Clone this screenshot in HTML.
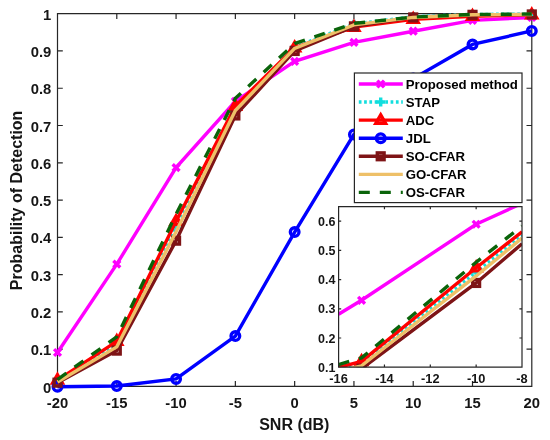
<!DOCTYPE html>
<html><head><meta charset="utf-8"><title>Probability of Detection vs SNR</title>
<style>html,body{margin:0;padding:0;background:#fff;}body{width:550px;height:440px;overflow:hidden;position:relative;}</style></head>
<body>
<svg width="550" height="440" viewBox="0 0 550 440" style="position:absolute;left:0;top:0;font-family:'Liberation Sans',Arial,Helvetica,sans-serif" font-weight="bold" fill="#151515">
<defs><clipPath id="ic"><rect x="338.6" y="206.6" width="183.39999999999998" height="160.6"/></clipPath></defs>
<rect width="550" height="440" fill="#fff"/>
<path d="M57.5 13.7H531.8V386.4H57.5ZM57.50 386.4v-5.3M57.50 13.7v5.3M116.79 386.4v-5.3M116.79 13.7v5.3M176.07 386.4v-5.3M176.07 13.7v5.3M235.36 386.4v-5.3M235.36 13.7v5.3M294.65 386.4v-5.3M294.65 13.7v5.3M353.94 386.4v-5.3M353.94 13.7v5.3M413.22 386.4v-5.3M413.22 13.7v5.3M472.51 386.4v-5.3M472.51 13.7v5.3M531.80 386.4v-5.3M531.80 13.7v5.3M57.5 386.40h5.3M531.8 386.40h-5.3M57.5 349.13h5.3M531.8 349.13h-5.3M57.5 311.86h5.3M531.8 311.86h-5.3M57.5 274.59h5.3M531.8 274.59h-5.3M57.5 237.32h5.3M531.8 237.32h-5.3M57.5 200.05h5.3M531.8 200.05h-5.3M57.5 162.78h5.3M531.8 162.78h-5.3M57.5 125.51h5.3M531.8 125.51h-5.3M57.5 88.24h5.3M531.8 88.24h-5.3M57.5 50.97h5.3M531.8 50.97h-5.3M57.5 13.70h5.3M531.8 13.70h-5.3" stroke="#262626" stroke-width="1.2" fill="none"/>
<text x="57.50" y="408.4" font-size="14.8" text-anchor="middle">-20</text>
<text x="116.79" y="408.4" font-size="14.8" text-anchor="middle">-15</text>
<text x="176.07" y="408.4" font-size="14.8" text-anchor="middle">-10</text>
<text x="235.36" y="408.4" font-size="14.8" text-anchor="middle">-5</text>
<text x="294.65" y="408.4" font-size="14.8" text-anchor="middle">0</text>
<text x="353.94" y="408.4" font-size="14.8" text-anchor="middle">5</text>
<text x="413.22" y="408.4" font-size="14.8" text-anchor="middle">10</text>
<text x="472.51" y="408.4" font-size="14.8" text-anchor="middle">15</text>
<text x="531.80" y="408.4" font-size="14.8" text-anchor="middle">20</text>
<text x="51.3" y="392.50" font-size="14.8" text-anchor="end">0</text>
<text x="51.3" y="355.23" font-size="14.8" text-anchor="end">0.1</text>
<text x="51.3" y="317.96" font-size="14.8" text-anchor="end">0.2</text>
<text x="51.3" y="280.69" font-size="14.8" text-anchor="end">0.3</text>
<text x="51.3" y="243.42" font-size="14.8" text-anchor="end">0.4</text>
<text x="51.3" y="206.15" font-size="14.8" text-anchor="end">0.5</text>
<text x="51.3" y="168.88" font-size="14.8" text-anchor="end">0.6</text>
<text x="51.3" y="131.61" font-size="14.8" text-anchor="end">0.7</text>
<text x="51.3" y="94.34" font-size="14.8" text-anchor="end">0.8</text>
<text x="51.3" y="57.07" font-size="14.8" text-anchor="end">0.9</text>
<text x="51.3" y="19.80" font-size="14.8" text-anchor="end">1</text>
<text x="294.3" y="430" font-size="16" text-anchor="middle">SNR (dB)</text>
<text transform="translate(21.8,200.4) rotate(-90)" font-size="16" text-anchor="middle">Probability of Detection</text>
<polyline points="57.50,352.48 116.79,264.15 176.07,167.63 235.36,101.28 294.65,61.41 353.94,42.40 413.22,31.22 472.51,20.41 531.80,17.43" fill="none" stroke="#ff00ff" stroke-width="3.4" stroke-linejoin="miter"/><path d="M54.10 349.08L60.90 355.88M54.10 355.88L60.90 349.08" stroke="#ff00ff" stroke-width="3.4" fill="none"/><path d="M113.39 260.75L120.19 267.55M113.39 267.55L120.19 260.75" stroke="#ff00ff" stroke-width="3.4" fill="none"/><path d="M172.67 164.23L179.47 171.03M172.67 171.03L179.47 164.23" stroke="#ff00ff" stroke-width="3.4" fill="none"/><path d="M231.96 97.88L238.76 104.68M231.96 104.68L238.76 97.88" stroke="#ff00ff" stroke-width="3.4" fill="none"/><path d="M291.25 58.01L298.05 64.81M291.25 64.81L298.05 58.01" stroke="#ff00ff" stroke-width="3.4" fill="none"/><path d="M350.54 39.00L357.34 45.80M350.54 45.80L357.34 39.00" stroke="#ff00ff" stroke-width="3.4" fill="none"/><path d="M409.82 27.82L416.62 34.62M409.82 34.62L416.62 27.82" stroke="#ff00ff" stroke-width="3.4" fill="none"/><path d="M469.11 17.01L475.91 23.81M469.11 23.81L475.91 17.01" stroke="#ff00ff" stroke-width="3.4" fill="none"/><path d="M528.40 14.03L535.20 20.83M528.40 20.83L535.20 14.03" stroke="#ff00ff" stroke-width="3.4" fill="none"/>
<polyline points="57.50,381.55 116.79,344.28 176.07,226.88 235.36,108.74 294.65,47.24 353.94,24.14 413.22,16.68 472.51,14.45 531.80,14.07" fill="none" stroke="#12dede" stroke-width="3.4" stroke-linejoin="miter" stroke-dasharray="2.7 2.6"/><path d="M53.00 381.55L62.00 381.55M57.50 377.05L57.50 386.05" stroke="#12dede" stroke-width="3.4" fill="none"/><path d="M112.29 344.28L121.29 344.28M116.79 339.78L116.79 348.78" stroke="#12dede" stroke-width="3.4" fill="none"/><path d="M171.57 226.88L180.57 226.88M176.07 222.38L176.07 231.38" stroke="#12dede" stroke-width="3.4" fill="none"/><path d="M230.86 108.74L239.86 108.74M235.36 104.24L235.36 113.24" stroke="#12dede" stroke-width="3.4" fill="none"/><path d="M290.15 47.24L299.15 47.24M294.65 42.74L294.65 51.74" stroke="#12dede" stroke-width="3.4" fill="none"/><path d="M349.44 24.14L358.44 24.14M353.94 19.64L353.94 28.64" stroke="#12dede" stroke-width="3.4" fill="none"/><path d="M408.72 16.68L417.72 16.68M413.22 12.18L413.22 21.18" stroke="#12dede" stroke-width="3.4" fill="none"/><path d="M468.01 14.45L477.01 14.45M472.51 9.95L472.51 18.95" stroke="#12dede" stroke-width="3.4" fill="none"/><path d="M527.30 14.07L536.30 14.07M531.80 9.57L531.80 18.57" stroke="#12dede" stroke-width="3.4" fill="none"/>
<polyline points="57.50,380.06 116.79,341.30 176.07,221.29 235.36,106.13 294.65,47.62 353.94,27.12 413.22,19.29 472.51,16.31 531.80,14.82" fill="none" stroke="#ff0000" stroke-width="3.4" stroke-linejoin="miter"/><path d="M57.50 374.76L62.35 383.16L52.65 383.16Z" stroke="#ff0000" stroke-width="3.4" stroke-linejoin="miter" fill="none"/><path d="M116.79 336.00L121.64 344.40L111.94 344.40Z" stroke="#ff0000" stroke-width="3.4" stroke-linejoin="miter" fill="none"/><path d="M176.07 215.99L180.92 224.39L171.23 224.39Z" stroke="#ff0000" stroke-width="3.4" stroke-linejoin="miter" fill="none"/><path d="M235.36 100.83L240.21 109.23L230.51 109.23Z" stroke="#ff0000" stroke-width="3.4" stroke-linejoin="miter" fill="none"/><path d="M294.65 42.32L299.50 50.72L289.80 50.72Z" stroke="#ff0000" stroke-width="3.4" stroke-linejoin="miter" fill="none"/><path d="M353.94 21.82L358.79 30.22L349.09 30.22Z" stroke="#ff0000" stroke-width="3.4" stroke-linejoin="miter" fill="none"/><path d="M413.22 13.99L418.07 22.39L408.38 22.39Z" stroke="#ff0000" stroke-width="3.4" stroke-linejoin="miter" fill="none"/><path d="M472.51 11.01L477.36 19.41L467.66 19.41Z" stroke="#ff0000" stroke-width="3.4" stroke-linejoin="miter" fill="none"/><path d="M531.80 9.52L536.65 17.92L526.95 17.92Z" stroke="#ff0000" stroke-width="3.4" stroke-linejoin="miter" fill="none"/>
<polyline points="57.50,386.77 116.79,386.03 176.07,378.95 235.36,336.09 294.65,232.10 353.94,134.45 413.22,78.55 472.51,44.41 531.80,30.96" fill="none" stroke="#0000ff" stroke-width="3.4" stroke-linejoin="miter"/><circle cx="57.50" cy="386.77" r="4.30" stroke="#0000ff" stroke-width="3.4" fill="none"/><circle cx="116.79" cy="386.03" r="4.30" stroke="#0000ff" stroke-width="3.4" fill="none"/><circle cx="176.07" cy="378.95" r="4.30" stroke="#0000ff" stroke-width="3.4" fill="none"/><circle cx="235.36" cy="336.09" r="4.30" stroke="#0000ff" stroke-width="3.4" fill="none"/><circle cx="294.65" cy="232.10" r="4.30" stroke="#0000ff" stroke-width="3.4" fill="none"/><circle cx="353.94" cy="134.45" r="4.30" stroke="#0000ff" stroke-width="3.4" fill="none"/><circle cx="413.22" cy="78.55" r="4.30" stroke="#0000ff" stroke-width="3.4" fill="none"/><circle cx="472.51" cy="44.41" r="4.30" stroke="#0000ff" stroke-width="3.4" fill="none"/><circle cx="531.80" cy="30.96" r="4.30" stroke="#0000ff" stroke-width="3.4" fill="none"/>
<polyline points="57.50,382.67 116.79,350.62 176.07,240.67 235.36,115.45 294.65,50.97 353.94,26.37 413.22,17.43 472.51,14.82 531.80,14.45" fill="none" stroke="#7e1416" stroke-width="3.4" stroke-linejoin="miter"/><rect x="54.10" y="379.27" width="6.80" height="6.80" stroke="#7e1416" stroke-width="3.4" fill="none"/><rect x="113.39" y="347.22" width="6.80" height="6.80" stroke="#7e1416" stroke-width="3.4" fill="none"/><rect x="172.67" y="237.27" width="6.80" height="6.80" stroke="#7e1416" stroke-width="3.4" fill="none"/><rect x="231.96" y="112.05" width="6.80" height="6.80" stroke="#7e1416" stroke-width="3.4" fill="none"/><rect x="291.25" y="47.57" width="6.80" height="6.80" stroke="#7e1416" stroke-width="3.4" fill="none"/><rect x="350.54" y="22.97" width="6.80" height="6.80" stroke="#7e1416" stroke-width="3.4" fill="none"/><rect x="409.82" y="14.03" width="6.80" height="6.80" stroke="#7e1416" stroke-width="3.4" fill="none"/><rect x="469.11" y="11.42" width="6.80" height="6.80" stroke="#7e1416" stroke-width="3.4" fill="none"/><rect x="528.40" y="11.05" width="6.80" height="6.80" stroke="#7e1416" stroke-width="3.4" fill="none"/>
<polyline points="57.50,381.93 116.79,346.89 176.07,231.73 235.36,110.60 294.65,48.36 353.94,24.88 413.22,17.43 472.51,14.82 531.80,14.45" fill="none" stroke="#eec068" stroke-width="3.4" stroke-linejoin="miter"/>
<polyline points="57.50,379.51 116.79,336.83 176.07,214.21 235.36,98.30 294.65,43.52 353.94,23.39 413.22,17.05 472.51,14.45 531.80,14.07" fill="none" stroke="#0a640a" stroke-width="3.4" stroke-linejoin="miter" stroke-dasharray="11 10"/>
<rect x="354.4" y="73.0" width="167.60000000000002" height="129.6" fill="#fff" stroke="#262626" stroke-width="1.2"/>
<path d="M358.8 84.00H402.8" stroke="#ff00ff" stroke-width="3.4" fill="none"/>
<path d="M377.30 80.60L384.10 87.40M377.30 87.40L384.10 80.60" stroke="#ff00ff" stroke-width="3.4" fill="none"/>
<text x="405.8" y="88.70" font-size="13.2" fill="#000">Proposed method</text>
<path d="M358.8 102.07H402.8" stroke="#12dede" stroke-width="3.4" fill="none" stroke-dasharray="2.7 2.6"/>
<path d="M376.20 102.07L385.20 102.07M380.70 97.57L380.70 106.57" stroke="#12dede" stroke-width="3.4" fill="none"/>
<text x="405.8" y="106.77" font-size="13.2" fill="#000">STAP</text>
<path d="M358.8 120.14H402.8" stroke="#ff0000" stroke-width="3.4" fill="none"/>
<path d="M380.70 114.84L385.55 123.24L375.85 123.24Z" stroke="#ff0000" stroke-width="3.4" stroke-linejoin="miter" fill="none"/>
<text x="405.8" y="124.84" font-size="13.2" fill="#000">ADC</text>
<path d="M358.8 138.21H402.8" stroke="#0000ff" stroke-width="3.4" fill="none"/>
<circle cx="380.70" cy="138.21" r="4.30" stroke="#0000ff" stroke-width="3.4" fill="none"/>
<text x="405.8" y="142.91" font-size="13.2" fill="#000">JDL</text>
<path d="M358.8 156.28H402.8" stroke="#7e1416" stroke-width="3.4" fill="none"/>
<rect x="377.30" y="152.88" width="6.80" height="6.80" stroke="#7e1416" stroke-width="3.4" fill="none"/>
<text x="405.8" y="160.98" font-size="13.2" fill="#000">SO-CFAR</text>
<path d="M358.8 174.35H402.8" stroke="#eec068" stroke-width="3.4" fill="none"/>

<text x="405.8" y="179.05" font-size="13.2" fill="#000">GO-CFAR</text>
<path d="M358.8 192.42H402.8" stroke="#0a640a" stroke-width="3.4" fill="none" stroke-dasharray="11 10"/>

<text x="405.8" y="197.12" font-size="13.2" fill="#000">OS-CFAR</text>
<rect x="338.6" y="206.6" width="183.39999999999998" height="160.6" fill="#fff"/>
<g clip-path="url(#ic)"><polyline points="338.60,314.20 361.53,300.28 476.15,224.27 522.00,203.33" fill="none" stroke="#ff00ff" stroke-width="3.4" stroke-linejoin="miter"/><path d="M358.13 296.88L364.93 303.68M358.13 303.68L364.93 296.88" stroke="#ff00ff" stroke-width="3.4" fill="none"/><path d="M472.75 220.87L479.55 227.67M472.75 227.67L479.55 220.87" stroke="#ff00ff" stroke-width="3.4" fill="none"/>
<polyline points="338.60,369.51 361.53,363.74 476.15,272.15 522.00,235.27" fill="none" stroke="#12dede" stroke-width="3.4" stroke-linejoin="miter" stroke-dasharray="2.7 2.6"/><path d="M357.03 363.74L366.03 363.74M361.53 359.24L361.53 368.24" stroke="#12dede" stroke-width="3.4" fill="none"/><path d="M471.65 272.15L480.65 272.15M476.15 267.65L476.15 276.65" stroke="#12dede" stroke-width="3.4" fill="none"/>
<polyline points="338.60,367.40 361.53,361.41 476.15,267.77 522.00,231.83" fill="none" stroke="#ff0000" stroke-width="3.4" stroke-linejoin="miter"/><path d="M361.53 356.11L366.37 364.51L356.68 364.51Z" stroke="#ff0000" stroke-width="3.4" stroke-linejoin="miter" fill="none"/><path d="M476.15 262.47L481.00 270.87L471.30 270.87Z" stroke="#ff0000" stroke-width="3.4" stroke-linejoin="miter" fill="none"/>
<polyline points="338.60,396.49 361.53,396.45 476.15,391.28 522.00,378.00" fill="none" stroke="#0000ff" stroke-width="3.4" stroke-linejoin="miter"/><circle cx="361.53" cy="396.45" r="4.30" stroke="#0000ff" stroke-width="3.4" fill="none"/><circle cx="476.15" cy="391.28" r="4.30" stroke="#0000ff" stroke-width="3.4" fill="none"/>
<polyline points="338.60,373.65 361.53,368.71 476.15,282.95 522.00,243.86" fill="none" stroke="#7e1416" stroke-width="3.4" stroke-linejoin="miter"/><rect x="358.13" y="365.31" width="6.80" height="6.80" stroke="#7e1416" stroke-width="3.4" fill="none"/><rect x="472.75" y="279.55" width="6.80" height="6.80" stroke="#7e1416" stroke-width="3.4" fill="none"/>
<polyline points="338.60,371.20 361.53,365.79 476.15,275.94 522.00,238.14" fill="none" stroke="#eec068" stroke-width="3.4" stroke-linejoin="miter"/>
<polyline points="338.60,364.51 361.53,357.90 476.15,262.22 522.00,226.05" fill="none" stroke="#0a640a" stroke-width="3.4" stroke-linejoin="miter" stroke-dasharray="11 10"/></g>
<path d="M338.6 206.6H522.0V367.2H338.6ZM338.60 367.2v-2.6M338.60 206.6v2.6M384.45 367.2v-2.6M384.45 206.6v2.6M430.30 367.2v-2.6M430.30 206.6v2.6M476.15 367.2v-2.6M476.15 206.6v2.6M522.00 367.2v-2.6M522.00 206.6v2.6M338.6 367.20h2.6M522.0 367.20h-2.6M338.6 338.00h2.6M522.0 338.00h-2.6M338.6 308.80h2.6M522.0 308.80h-2.6M338.6 279.60h2.6M522.0 279.60h-2.6M338.6 250.40h2.6M522.0 250.40h-2.6M338.6 221.20h2.6M522.0 221.20h-2.6" stroke="#262626" stroke-width="1.2" fill="none"/>
<text x="338.60" y="383.2" font-size="12.8" text-anchor="middle">-16</text>
<text x="384.45" y="383.2" font-size="12.8" text-anchor="middle">-14</text>
<text x="430.30" y="383.2" font-size="12.8" text-anchor="middle">-12</text>
<text x="476.15" y="383.2" font-size="12.8" text-anchor="middle">-10</text>
<text x="522.00" y="383.2" font-size="12.8" text-anchor="middle">-8</text>
<text x="335.4" y="371.70" font-size="12.5" text-anchor="end">0.1</text>
<text x="335.4" y="342.50" font-size="12.5" text-anchor="end">0.2</text>
<text x="335.4" y="313.30" font-size="12.5" text-anchor="end">0.3</text>
<text x="335.4" y="284.10" font-size="12.5" text-anchor="end">0.4</text>
<text x="335.4" y="254.90" font-size="12.5" text-anchor="end">0.5</text>
<text x="335.4" y="225.70" font-size="12.5" text-anchor="end">0.6</text>
</svg>
</body></html>
